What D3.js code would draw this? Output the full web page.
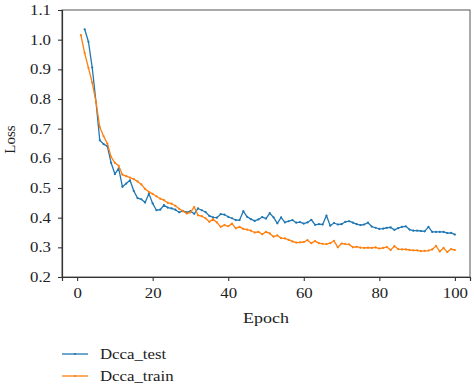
<!DOCTYPE html>
<html>
<head>
<meta charset="utf-8">
<script src="https://cdn.jsdelivr.net/npm/d3@7"></script>
<style>
  body { margin: 0; background: #fff; }
  svg { display: block; font-family: "Liberation Serif", "DejaVu Serif", serif; }
</style>
</head>
<body>
<svg id="chart" width="474" height="387"></svg>
<script>
// epochs 1..100 ; test curve starts at epoch 2
var epochs = d3.range(1, 101);

var trainLoss = [
  1.015, 0.955, 0.905, 0.855, 0.790, 0.705, 0.675, 0.650, 0.605, 0.585,
  0.575, 0.545, 0.540, 0.535, 0.530, 0.522, 0.512, 0.497, 0.487, 0.480,
  0.472, 0.464, 0.459, 0.450, 0.447, 0.440, 0.430, 0.422, 0.414, 0.418,
  0.436, 0.408, 0.405, 0.398, 0.386, 0.395, 0.384, 0.369, 0.375, 0.371,
  0.380, 0.364, 0.369, 0.362, 0.360, 0.356, 0.350, 0.352, 0.344, 0.352,
  0.347, 0.336, 0.340, 0.331, 0.330, 0.325, 0.320, 0.316, 0.317, 0.318,
  0.324, 0.314, 0.321, 0.314, 0.312, 0.311, 0.314, 0.322, 0.300, 0.313,
  0.311, 0.310, 0.300, 0.302, 0.299, 0.298, 0.299, 0.298, 0.300, 0.296,
  0.298, 0.301, 0.291, 0.304, 0.294, 0.293, 0.293, 0.291, 0.290, 0.290,
  0.287, 0.288, 0.289, 0.293, 0.305, 0.286, 0.298, 0.284, 0.294, 0.291
];

var testLoss = [
  null,  1.035, 0.993, 0.906, 0.790, 0.661, 0.648, 0.641, 0.585, 0.547,
  0.566, 0.504, 0.515, 0.526, 0.490, 0.466, 0.462, 0.451, 0.481, 0.448,
  0.425, 0.427, 0.442, 0.434, 0.431, 0.427, 0.418, 0.423, 0.418, 0.422,
  0.413, 0.431, 0.425, 0.419, 0.406, 0.401, 0.400, 0.412, 0.410, 0.403,
  0.398, 0.392, 0.392, 0.422, 0.403, 0.395, 0.389, 0.394, 0.402, 0.397,
  0.415, 0.401, 0.381, 0.401, 0.384, 0.388, 0.392, 0.383, 0.385, 0.380,
  0.384, 0.393, 0.376, 0.378, 0.377, 0.407, 0.373, 0.382, 0.377, 0.378,
  0.386, 0.388, 0.383, 0.378, 0.375, 0.377, 0.383, 0.370, 0.366, 0.362,
  0.363, 0.366, 0.367, 0.359, 0.365, 0.369, 0.371, 0.360, 0.356, 0.356,
  0.355, 0.354, 0.369, 0.352, 0.352, 0.352, 0.352, 0.348, 0.349, 0.343
];

var xTicks = [0, 20, 40, 60, 80, 100];
var yTicks = [0.2, 0.3, 0.4, 0.5, 0.6, 0.7, 0.8, 0.9, 1.0, 1.1];
var seriesNames = ["Dcca_test", "Dcca_train"];
var seriesColors = ["#1f77b4", "#ff7f0e"];

const margin = { top: 10, right: 4, bottom: 110, left: 62 };
const W = 474, H = 387;
const innerW = W - margin.left - margin.right;
const innerH = H - margin.top - margin.bottom;
const stretch = 1.2; // picture is a bit wider than tall, text too

const svg = d3.select("#chart");
const g = svg.append("g").attr("transform", `translate(${margin.left},${margin.top})`);

const x = d3.scaleLinear().domain([-4, 104]).range([0, innerW]);
const y = d3.scaleLinear().domain([0.2, 1.1]).range([innerH, 0]);

// box
g.append("rect")
  .attr("width", innerW).attr("height", innerH)
  .attr("fill", "none").attr("stroke", "#555").attr("stroke-width", 1);

// axes
const xAxis = g.append("g")
  .attr("transform", `translate(0,${innerH})`)
  .call(d3.axisBottom(x).tickValues(xTicks).tickSize(4).tickPadding(7).tickFormat(d3.format("d")));
const yAxis = g.append("g")
  .call(d3.axisLeft(y).tickValues(yTicks).tickSize(4).tickPadding(7).tickFormat(d3.format(".1f")));

[xAxis, yAxis].forEach(a => {
  a.select(".domain").attr("stroke", "#333").attr("stroke-width", 1.2);
  a.selectAll(".tick line").attr("stroke", "#333").attr("stroke-width", 1.1);
  a.selectAll(".tick text")
    .attr("fill", "#222")
    .style("font-family", "Liberation Serif, serif")
    .style("font-size", "14px");
});
xAxis.selectAll(".tick text").attr("transform", `scale(${stretch},1)`);
yAxis.selectAll(".tick text")
  .attr("x", -11 / stretch)
  .attr("transform", `scale(${stretch},1)`);

// axis titles
g.append("text")
  .attr("transform", `translate(${innerW / 2},${innerH + 46}) scale(${stretch},1)`)
  .attr("text-anchor", "middle")
  .attr("fill", "#222")
  .style("font-size", "15px")
  .text("Epoch");

g.append("text")
  .attr("transform", `translate(${-47},${innerH / 2 - 4}) rotate(-90)`)
  .attr("text-anchor", "middle")
  .attr("fill", "#222")
  .style("font-size", "15px")
  .text("Loss");

// lines
const series = [testLoss, trainLoss];
series.forEach((vals, si) => {
  const pts = epochs.map((e, i) => ({ e: e, v: vals[i] })).filter(d => d.v != null);
  const line = d3.line().x(d => x(d.e)).y(d => y(d.v));
  g.append("path")
    .datum(pts)
    .attr("fill", "none")
    .attr("stroke", seriesColors[si])
    .attr("stroke-width", 1.3)
    .attr("stroke-linejoin", "round")
    .attr("d", line);
  g.append("g").selectAll("circle")
    .data(pts)
    .join("circle")
    .attr("cx", d => x(d.e))
    .attr("cy", d => y(d.v))
    .attr("r", 1.1)
    .attr("fill", seriesColors[si]);
});

// legend
const legend = svg.append("g").attr("transform", "translate(62,354)");
seriesNames.forEach((name, i) => {
  const row = legend.append("g").attr("transform", `translate(0,${i * 22})`);
  row.append("line")
    .attr("x1", 0).attr("x2", 26)
    .attr("stroke", seriesColors[i]).attr("stroke-width", 1.3);
  row.append("circle").attr("cx", 13).attr("r", 1.1).attr("fill", seriesColors[i]);
  row.append("text")
    .attr("transform", `translate(38,5) scale(1.12,1)`)
    .attr("fill", "#222")
    .style("font-size", "15px")
    .text(name);
});
</script>
</body>
</html>
